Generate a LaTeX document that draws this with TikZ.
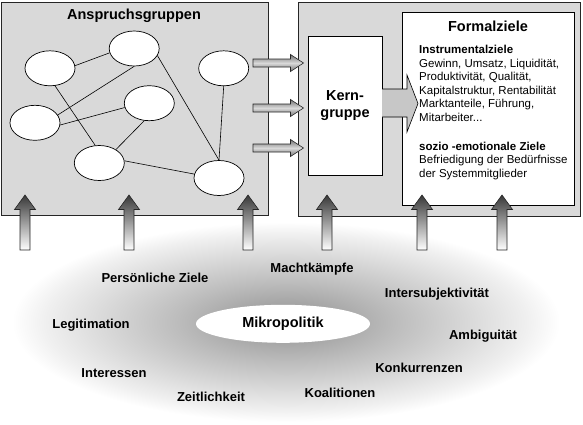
\documentclass[tikz,border=0pt]{standalone}
\usepackage{fontspec}
\setmainfont{Liberation Sans}
\usetikzlibrary{shapes.geometric}
\pgfdeclareradialshading{mpglow}{\pgfpoint{0bp}{0bp}}{color(0bp)=(black!38); color(5bp)=(black!35); color(10bp)=(black!26); color(16bp)=(black!16); color(22bp)=(black!6); color(25bp)=(white); color(50bp)=(white)}
\tikzset{
 panel/.style={draw=black!85, line width=0.8pt, fill=black!15, inner sep=0pt, anchor=north west},
 whitebox/.style={draw=black, line width=0.8pt, fill=white, inner sep=0pt, anchor=north west},
 grp/.style={ellipse, draw=black, line width=0.7pt, fill=white, minimum width=50pt, minimum height=35pt, inner sep=0pt},
 link/.style={draw=black, line width=0.6pt},
 title/.style={font=\fontsize{14.5}{16}\selectfont\bfseries, inner sep=0pt, anchor=base},
 lbl/.style={font=\fontsize{13}{15}\selectfont\bfseries, inner sep=0pt, anchor=base},
 body/.style={font=\fontsize{11.5}{13.5}\selectfont, inner sep=0pt, anchor=base west},
 bodyb/.style={font=\fontsize{11.5}{13.5}\selectfont\bfseries, inner sep=0pt, anchor=base west},
 uparr/.style={draw=black!85, line width=0.6pt, top color=black!78, bottom color=white},
 sidearr/.style={draw=black!85, line width=0.6pt, top color=black!55, bottom color=black!55, middle color=black!15},
 bigarr/.style={fill=black!22},
}
\newcommand\vArr[1]{\path[uparr] (#1-5,250) -- (#1-5,209.5) -- (#1-10.5,209.5) -- (#1,195) -- (#1+10.5,209.5) -- (#1+5,209.5) -- (#1+5,250) -- cycle;}
\newcommand\hArr[1]{\path[sidearr] (253,#1-4) -- (290.5,#1-4) -- (290.5,#1-8.5) -- (303.5,#1) -- (290.5,#1+8.5) -- (290.5,#1+4) -- (253,#1+4) -- cycle;}
\begin{document}
\begin{tikzpicture}[x=1pt,y=-1pt]
\useasboundingbox (0,0) rectangle (583,424);
% background glow
\shade[shading=mpglow] (286,322) ellipse [x radius=274, y radius=100];
\node[ellipse, fill=white, minimum width=174pt, minimum height=38pt, inner sep=0pt,
      font=\fontsize{14.5}{16}\selectfont\bfseries] (mp) at (283,323.8) {Mikropolitik};
% panels
\node[panel, minimum width=267pt, minimum height=213pt] (left) at (1,2) {};
\node[panel, minimum width=282pt, minimum height=214pt] (right) at (298,2) {};
\node[whitebox, minimum width=74pt, minimum height=139pt] (kern) at (308,36) {};
\node[whitebox, minimum width=172pt, minimum height=193pt] (formal) at (402,12) {};
% titles
\node[title] (t1) at (134,19.5) {Anspruchsgruppen};
\node[title] (t2) at (488,31) {Formalziele};
\node[title] (k1) at (345,100) {Kern-};
\node[title] (k2) at (345,117) {gruppe};
% groups
\node[grp] (g1) at (50,68.3) {};
\node[grp] (g2) at (134.2,48.5) {};
\node[grp] (g3) at (223.7,68.3) {};
\node[grp] (g4) at (35,122.8) {};
\node[grp] (g5) at (149.3,103.2) {};
\node[grp] (g6) at (99.3,163) {};
\node[grp] (g7) at (219,178) {};
\draw[link] (g1.6) -- (g2.190);
\draw[link] (g2.south) -- (g4.19);
\draw[link] (g2.-17) -- (g7.north);
\draw[link] (g1.-74) -- (g6.103);
\draw[link] (g4.-5) -- (g5.190);
\draw[link] (g5.-106) -- (g6.39);
\draw[link] (g6.5) -- (g7.171);
\draw[link] (g3.south) -- (g7.north);
% side arrows
\hArr{63}
\hArr{108}
\hArr{148}
% big arrow
\fill[bigarr] (382,89) -- (407,89) -- (407,75) -- (418,103.5) -- (407,132) -- (407,117) -- (382,117) -- cycle;
\draw[line width=0.6pt] (382,89) -- (407,89) -- (407,75) -- (418,103.5) -- (407,132) -- (407,117) -- (382,117);
% goal text
\node[bodyb] (f1) at (419,53.5) {Instrumentalziele};
\node[body] (f2) at (419,67) {Gewinn, Umsatz, Liquidität,};
\node[body] (f3) at (419,80.5) {Produktivität, Qualität,};
\node[body] (f4) at (419,94) {Kapitalstruktur, Rentabilität};
\node[body] (f5) at (419,107.5) {Marktanteile, Führung,};
\node[body] (f6) at (419,121) {Mitarbeiter...};
\node[bodyb] (f7) at (419,150) {sozio -emotionale Ziele};
\node[body] (f8) at (419,163.75) {Befriedigung der Bedürfnisse};
\node[body] (f9) at (419,177.5) {der Systemmitglieder};
% up arrows
\vArr{25}
\vArr{129}
\vArr{248}
\vArr{327}
\vArr{422}
\vArr{502}
% labels
\node[lbl] (a1) at (155,282) {Persönliche Ziele};
\node[lbl] (a2) at (312,272) {Machtkämpfe};
\node[lbl] (a3) at (437,297) {Intersubjektivität};
\node[lbl] (a4) at (91,328) {Legitimation};
\node[lbl] (a5) at (483,339) {Ambiguität};
\node[lbl] (a6) at (114,377) {Interessen};
\node[lbl] (a7) at (419,372) {Konkurrenzen};
\node[lbl] (a8) at (211,401) {Zeitlichkeit};
\node[lbl] (a9) at (340,397) {Koalitionen};
\end{tikzpicture}
\end{document}
